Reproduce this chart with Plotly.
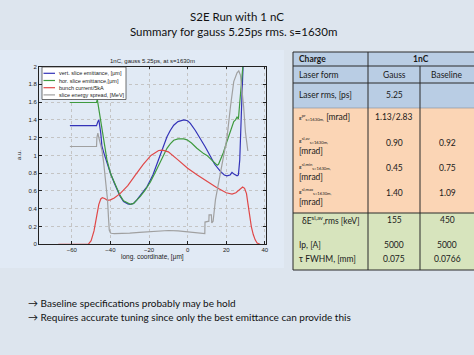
import plotly.graph_objects as go

W, H = 474, 355

# ---------------- data ----------------
vert_x = [-61, -47.2, -46.5, -46, -45, -44.4, -43, -41.8, -40, -38, -36.6, -35, -33.2, -31, -29.7, -28, -26.3,
          -24, -21, -18, -15.9, -13, -10.7, -9, -7.2, -5, -2, 0, 1.4, 4, 6.6, 9, 11.8, 14, 17, 19, 20.4, 22, 23,
          24, 25.6, 26.3, 27, 27.7, 28.2, 28.8, 29.2]
vert_y = [1.335, 1.335, 1.38, 1.40, 1.25, 1.1, 1.0, 0.91, 0.8, 0.69, 0.61, 0.54, 0.48, 0.455, 0.45, 0.46, 0.5,
          0.57, 0.65, 0.78, 0.91, 1.07, 1.21, 1.28, 1.34, 1.38, 1.40, 1.39, 1.36, 1.28, 1.19, 1.1, 0.99, 0.9, 0.82,
          0.78, 0.77, 0.78, 0.81, 0.79, 0.77, 0.78, 0.95, 1.3, 1.7, 2.05, 2.3]

hor_x = [-61, -47.2, -46.8, -46, -45.3, -44.5, -43.6, -42.5, -41.8, -40, -38, -36.6, -35, -33.2, -31, -29.7, -28,
         -26, -24.5, -22, -19.3, -17, -14.2, -12, -10.7, -9, -7.2, -5, -3.7, -2, -0.3, 2, 4.8, 7, 8.3, 10, 12,
         13.5, 15.3, 16, 17, 18.5, 20.4, 22, 23.9, 24.8, 25.6, 26.3, 27.2, 28.2, 28.8, 29.2]
hor_y = [1.595, 1.595, 1.63, 1.52, 1.44, 1.33, 1.21, 1.06, 0.95, 0.8, 0.7, 0.62, 0.55, 0.49, 0.46, 0.45, 0.46,
         0.5, 0.54, 0.61, 0.7, 0.8, 0.93, 1.02, 1.08, 1.13, 1.17, 1.185, 1.185, 1.185, 1.175, 1.14, 1.08, 1.04,
         1.02, 1.0, 0.96, 0.93, 0.89, 0.9, 0.95, 1.03, 1.16, 1.27, 1.38, 1.40, 1.43, 1.41, 1.62, 1.8, 2.05, 2.3]

cur_x = [-67, -51.5, -50, -48.5, -47, -46, -45, -44.2, -43, -41.5, -40, -38, -35, -31, -27, -23, -19, -15, -13,
         -10, -5, 0, 5, 10, 15, 20, 23, 25, 27, 28.5, 29.5, 30.5, 31.3, 32, 33, 34, 35, 36, 37.5]
cur_y = [0, 0, 0.04, 0.15, 0.33, 0.45, 0.51, 0.525, 0.515, 0.495, 0.50, 0.52, 0.57, 0.66, 0.78, 0.9, 1.0, 1.055,
         1.06, 1.04, 0.95, 0.855, 0.78, 0.705, 0.64, 0.58, 0.565, 0.58, 0.62, 0.645, 0.63, 0.57, 0.45, 0.33, 0.2,
         0.11, 0.05, 0.015, 0]

es_x = [-61, -47.2, -47, -46.5, -46, -45, -44.4, -43.5, -42.7, -42, -41.5, -41, -40.6, -40, -39.6, -38, -35, -30,
        -25, -20, -15, -10, -5, 0, 3, 6.6, 8.9, 9.0, 11.0, 11.1, 12.3, 12.5, 13.2, 14.4, 16.1, 17.5, 18.7, 20.4,
        22.2, 23.9, 25.6, 26.5, 27.4, 28.2, 29, 30, 30.6, 31.2]
es_y = [1.10, 1.10, 1.20, 1.25, 1.2, 1.12, 1.06, 0.92, 0.76, 0.62, 0.5, 0.3, 0.16, 0.13, 0.124, 0.12, 0.12, 0.125,
        0.135, 0.14, 0.15, 0.155, 0.15, 0.14, 0.135, 0.13, 0.12, 0.25, 0.26, 0.33, 0.33, 0.24, 0.26, 0.5, 0.69,
        0.84, 0.99, 1.2, 1.55, 1.83, 1.93, 1.95, 1.9, 1.74, 1.55, 1.25, 1.12, 1.05]

series_names = ["vert. slice emittance, [\u03bcm]", "hor. slice emittance,[\u03bcm]",
                "bunch current/5kA", "slice energy spread, [MeV]"]
series_colors = ["#3333b8", "#3f9a3f", "#e04848", "#a0a0a0"]

x_ticks = [-60, -40, -20, 0, 20, 40]
y_ticks = [0, 0.2, 0.4, 0.6, 0.8, 1, 1.2, 1.4, 1.6, 1.8, 2]

# table content
SM = '<span style="font-size:6px">'
tbl_header = ["Charge", "1nC"]
tbl_labels = ["Laser form", "Laser rms, [ps]",
              SM + "\u03b5<sup>pr</sup><sub>s=1630m,</sub></span> [mrad]",
              SM + "\u03b5<sup>sl,av</sup><sub>s=1630m,</sub></span><br>[mrad]",
              SM + "\u03b5<sup>sl,min</sup><sub>s=1630m,</sub></span><br>[mrad]",
              SM + "\u03b5<sup>sl,max</sup><sub>s=1630m,</sub></span><br>[mrad]",
              "\u03b4E<sup>sl,av</sup>,rms [keV]", "Ip, [A]", "\u03c4 FWHM, [mm]"]
tbl_gauss = ["Gauss", "5.25", "1.13/2.83", "0.90", "0.45", "1.40", "155", "5000", "0.075"]
tbl_base = ["Baseline", "", "", "0.92", "0.75", "1.09", "450", "5000", "0.0766"]

bullets = ["\u2192 Baseline specifications probably may be hold",
           "\u2192 Requires accurate tuning since only the best emittance can provide this"]

# ---------------- helpers ----------------
def px(x):
    return x / W

def py(y):
    return 1 - y / H

SANS = "Lato, Liberation Sans, sans-serif"
MAT = "Liberation Sans, Arial, sans-serif"

ann = []
shapes = []

def text(t, x, y, family, size, xanchor="center", angle=0, color="#1a1a1a", align="center"):
    ann.append(dict(text=t, x=px(x), y=py(y), xref="paper", yref="paper", xanchor=xanchor, yanchor="middle",
                    align=align, textangle=angle, showarrow=False,
                    font=dict(family=family, size=size, color=color)))

fig = go.Figure()
for xs, ys, nm, col in zip([vert_x, hor_x, cur_x, es_x], [vert_y, hor_y, cur_y, es_y], series_names, series_colors):
    fig.add_trace(go.Scatter(x=xs, y=ys, name=nm, mode="lines",
                             line=dict(color=col, width=1.2), showlegend=False, cliponaxis=True))

# slide image area behind the chart
shapes.append(dict(type="rect", xref="paper", yref="paper", x0=px(0), x1=px(284), y0=py(268), y1=py(50),
                   fillcolor="#e1eaf5", line=dict(width=0), layer="below"))

# plot title / labels
text("1nC, gauss 5.25ps, at s=1630m", 152, 60.5, MAT, 6, color="#222")
text("long. coordinate, [\u03bcm]", 152, 257, MAT, 6.5, color="#222")
text("a.u.", 19, 155, MAT, 6, angle=-90, color="#222")

# manual legend
shapes.append(dict(type="rect", xref="paper", yref="paper", x0=px(42), x1=px(126), y0=py(99.5), y1=py(67),
                   fillcolor="white", line=dict(color="#333", width=0.7)))
for i, (nm, col) in enumerate(zip(series_names, series_colors)):
    yy = 73.3 + i * 7.2
    shapes.append(dict(type="line", xref="paper", yref="paper", x0=px(43.5), x1=px(55), y0=py(yy), y1=py(yy),
                       line=dict(color=col, width=1.2)))
    text(nm, 57, yy, MAT, 5.5, xanchor="left", color="#222")

# slide title
text("S2E Run with 1 nC", 237, 16, SANS, 11.5, color="#111")
text("Summary for gauss 5.25ps rms. s=1630m", 233, 32, SANS, 11.5, color="#111")

# bullets
for i, b in enumerate(bullets):
    text(b, 26, 303 + i * 14, SANS, 10, xanchor="left", color="#111")

# ---------------- table ----------------
TL, C1, C2, TR = 293, 368, 420, 474
row_edges = [52, 66, 83, 108, 130, 157, 183, 213, 233, 251, 270]
row_fill = ["#b9cde4", "#b9cde4", "#b9cde4", "#fbd5b5", "#fbd5b5", "#fbd5b5", "#fbd5b5", "#d7e4bd", "#d7e4bd", "#d7e4bd"]
for i in range(len(row_fill)):
    shapes.append(dict(type="rect", xref="paper", yref="paper", x0=px(TL), x1=px(TR),
                       y0=py(row_edges[i + 1]), y1=py(row_edges[i]), fillcolor=row_fill[i], line=dict(width=0)))
LC = "#2a2a2a"
for yv in [52, 66, 83, 213, 270]:
    shapes.append(dict(type="line", xref="paper", yref="paper", x0=px(TL), x1=px(TR), y0=py(yv), y1=py(yv),
                       line=dict(color=LC, width=1)))
shapes.append(dict(type="line", xref="paper", yref="paper", x0=px(TL), x1=px(TR), y0=py(108), y1=py(108),
                   line=dict(color="#7f8a99", width=0.6)))
for xv, ytop in [(TL, 52), (C1, 52), (C2, 66)]:
    shapes.append(dict(type="line", xref="paper", yref="paper", x0=px(xv), x1=px(xv), y0=py(270), y1=py(ytop),
                       line=dict(color=LC, width=1)))

text("<b>" + tbl_header[0] + "</b>", 297, 59, SANS, 8.5, xanchor="left")
text("<b>" + tbl_header[1] + "</b>", 421, 59, SANS, 8.5)
label_y = [75, 95, 117, 146, 172, 197, 220, 245, 259]
value_y = [75, 95, 117, 143, 168, 193, 220, 245, 259]
for lab, ly, g, b, vy in zip(tbl_labels, label_y, tbl_gauss, tbl_base, value_y):
    lx = 300 if lab.startswith("\u03b4E") else 297
    text(lab, lx, ly, SANS, 8.5, xanchor="left", align="left")
    if g:
        text(g, 394, vy, SANS, 8.5)
    if b:
        text(b, 447, vy, SANS, 8.5)

axis_common = dict(showline=True, linecolor="#222", linewidth=0.8, mirror="ticks", ticks="inside",
                   ticklen=3, tickcolor="#222", showgrid=True, gridcolor="#c4c4c4", griddash="dot",
                   gridwidth=0.8, zeroline=False, automargin=False,
                   tickfont=dict(family=MAT, size=6, color="#222"))

fig.update_layout(
    width=W, height=H, autosize=False,
    margin=dict(l=0, r=0, t=0, b=0, pad=0, autoexpand=False),
    paper_bgcolor="#dde5ee", plot_bgcolor="white",
    xaxis=dict(domain=[px(39), px(266)], range=[-77, 40.6], tickvals=x_ticks, **axis_common),
    yaxis=dict(domain=[py(244.3), py(66.5)], range=[0, 2], tickvals=y_ticks,
               ticktext=[f"{v:g}" for v in y_ticks], **axis_common),
    shapes=shapes, annotations=ann, showlegend=False,
)

fig.write_html("out.html", config={"displayModeBar": False},
               post_script="document.body.style.margin='0';document.body.style.overflow='hidden';")
